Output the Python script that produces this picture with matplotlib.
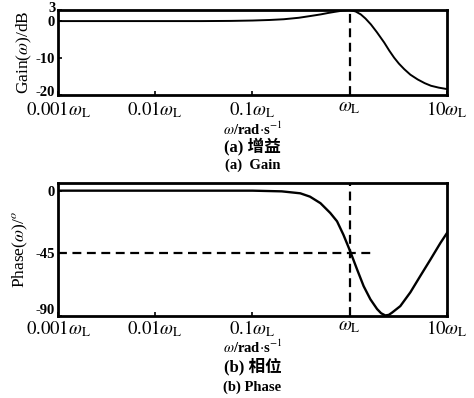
import matplotlib
matplotlib.use("Agg")
import matplotlib.pyplot as plt
import matplotlib.transforms as mtransforms

plt.rcParams['font.family'] = ['Liberation Serif', 'Noto Sans CJK SC']
plt.rcParams['mathtext.fontset'] = 'stix'

# data (frequency in units of wL)
gain_freq = [0.001, 0.01, 0.03, 0.06, 0.1, 0.15, 0.21, 0.3, 0.4, 0.5, 0.6, 0.7, 0.85,
             1.0, 1.15, 1.3, 1.45, 1.65, 1.9, 2.26, 2.55, 2.86, 3.2, 3.63, 4.2, 5.0,
             5.9, 6.84, 8.2, 10]
gain_db = [0, 0, 0, 0.05, 0.15, 0.3, 0.5, 0.9, 1.4, 1.8, 2.2, 2.5, 2.85,
           3.0, 2.6, 1.8, 0.7, -0.9, -3.0, -5.8, -8.0, -9.9, -11.5, -13.0, -14.5, -15.8,
           -16.8, -17.5, -18.0, -18.4]

phase_freq = [0.001, 0.1, 0.2, 0.31, 0.39, 0.5, 0.63, 0.74, 0.86, 1.01, 1.19, 1.39,
              1.63, 1.91, 2.1, 2.32, 2.52, 2.72, 3.31, 4.2, 5.3, 6.75, 8.55, 10]
phase_deg = [0, 0, -0.5, -1.9, -4.3, -9, -16, -22, -31.6, -43.5, -56.6, -68.6,
             -78, -85, -88, -89.6, -89.2, -87.6, -82.9, -73, -61.4, -49.5, -37.6, -30.4]

xticks = [0.001, 0.01, 0.1, 1, 10]
xticklabels = [r'$0.001\omega_\mathrm{L}$', r'$0.01\omega_\mathrm{L}$', r'$0.1\omega_\mathrm{L}$',
               r'$\omega_\mathrm{L}$', r'$10\omega_\mathrm{L}$']
gain_yticks = [3, 0, -10, -20]
phase_yticks = [0, -45, -90]
cross_freq = 1.0
half_line_end = 1.7

W, H = 474, 398
fig = plt.figure(figsize=(W / 100, H / 100), dpi=100)


def px_axes(l, t, r, b):
    return fig.add_axes([l / W, 1 - b / H, (r - l) / W, (b - t) / H])


def nudge(lbl, dy):
    lbl.set_transform(lbl.get_transform() + mtransforms.ScaledTranslation(0, dy / 72, fig.dpi_scale_trans))


def style(ax, xpad, lift):
    ax.set_xscale('log')
    ax.set_xlim(0.001, 10)
    ax.set_xticks(xticks)
    ax.set_xticklabels(xticklabels, fontsize=13.5)
    ax.minorticks_off()
    ax.tick_params(direction='in', length=3, width=1.2, pad=2)
    ax.tick_params(axis='x', pad=xpad)
    for s in ax.spines.values():
        s.set_linewidth(2)
    # lift the lowest y label a bit so it clears the first x label
    nudge(ax.get_yticklabels()[-1], lift)


ax1 = px_axes(58, 10, 447, 95)
ax1.plot(gain_freq, gain_db, color='black', lw=1.4)
ax1.plot([cross_freq, cross_freq], [-20, 3], color='black', lw=1.6, ls=(0, (4, 2.5)))
ax1.set_ylim(-20, 3)
ax1.set_yticks(gain_yticks)
ax1.set_yticklabels([str(v) for v in gain_yticks], fontsize=10.5, fontweight='bold')
style(ax1, 3, 3)
nudge(ax1.get_yticklabels()[0], 2.5)
ax1.set_ylabel(r'Gain($\omega$)/dB', fontsize=12.5, labelpad=1)

ax2 = px_axes(58, 183, 447, 316)
ax2.plot(phase_freq, phase_deg, color='black', lw=1.7)
ax2.plot([cross_freq, cross_freq], [-90, 6], color='black', lw=1.6, ls=(0, (4, 2.5)))
ax2.plot([0.001, half_line_end], [-45, -45], color='black', lw=1.6, ls=(0, (4, 2.5)))
ax2.set_ylim(-90, 5.5)
ax2.set_yticks(phase_yticks)
ax2.set_yticklabels([str(v) for v in phase_yticks], fontsize=10.5, fontweight='bold')
style(ax2, 1.5, 5)
ax2.set_ylabel(r'Phase($\omega$)/$^{o}$', fontsize=12.5, labelpad=4)

cx = 252.5 / W
fig.text(cx, 1 - 129 / H, r'$\omega$/rad$\cdot$s$^{-1}$', ha='center', va='center',
         fontsize=10.5, fontweight='bold')
fig.text(cx, 1 - 146 / H, '(a) 增益', ha='center', va='center', fontsize=12, fontweight='bold')
fig.text(cx, 1 - 165 / H, '(a)  Gain', ha='center', va='center', fontsize=10.5, fontweight='bold')

fig.text(cx, 1 - 347 / H, r'$\omega$/rad$\cdot$s$^{-1}$', ha='center', va='center',
         fontsize=10.5, fontweight='bold')
fig.text(cx, 1 - 367 / H, '(b) 相位', ha='center', va='center', fontsize=12, fontweight='bold')
fig.text(cx, 1 - 387 / H, '(b) Phase', ha='center', va='center', fontsize=10.5, fontweight='bold')

fig.savefig('out.png', dpi=100)
